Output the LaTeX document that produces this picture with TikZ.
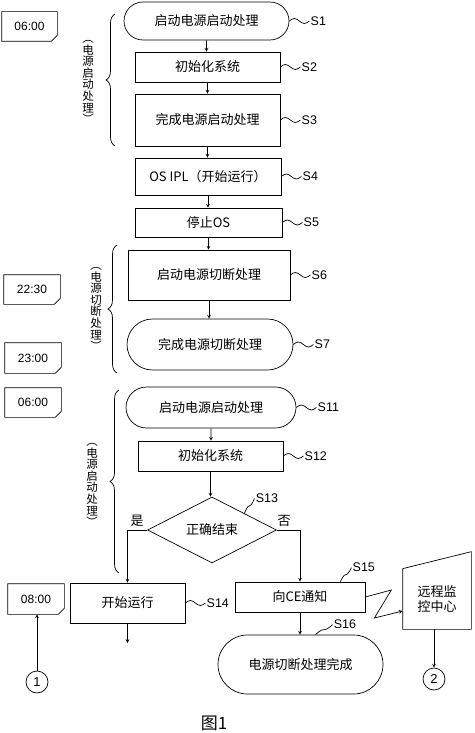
\documentclass[tikz,border=0pt]{standalone}
\usepackage{fontspec}
\setmainfont{Liberation Sans}
\newfontfamily\cjk{Noto Sans CJK SC}
\usetikzlibrary{shapes.geometric,shapes.misc,decorations.pathreplacing}

\newcommand{\steptag}[2]{\draw (#1) sin ++(5,-2.5) cos ++(5,2.5) sin ++(5,2.5) cos ++(5,-2.5) node[tag]{#2};}
\newcommand{\uptag}[3]{\draw (#1) sin ++(#2) cos ++(#2) node[tag]{#3};}

\begin{document}
\begin{tikzpicture}[
    x=1pt, y=-1pt, line width=0.7pt,
    proc/.style={draw, rectangle, inner sep=2pt, font=\cjk\fontsize{13}{15}\selectfont},
    term/.style={draw, rounded rectangle, inner sep=2pt, font=\cjk\fontsize{13}{15}\selectfont},
    memo/.style={inner sep=0pt, font=\fontsize{12}{14}\selectfont},
    tag/.style={anchor=west, inner sep=1pt, font=\fontsize{12.5}{14}\selectfont},
    side/.style={align=center, inner sep=0pt, font=\cjk\fontsize{11.5}{11.6}\selectfont},
    lbl/.style={inner sep=1pt, font=\cjk\fontsize{13}{15}\selectfont},
    conn/.style={draw, circle, inner sep=0pt, minimum size=22pt, font=\fontsize{13}{15}\selectfont},
    arrow/.style={->, >=stealth},
    curly/.style={decorate, decoration={brace, amplitude=9pt}}
]
    \useasboundingbox (0,0) rectangle (474,733);

    \node[term, minimum width=169pt, minimum height=38pt] (s1) at (206.5,21) {启动电源启动处理};
    \node[proc, minimum width=145pt, minimum height=30pt] (s2) at (207.5,67) {初始化系统};
    \node[proc, minimum width=145pt, minimum height=52pt] (s3) at (207.5,120) {完成电源启动处理};
    \node[proc, minimum width=146pt, minimum height=37pt] (s4) at (208,176.5) {OS IPL（开始运行）};
    \node[proc, minimum width=147pt, minimum height=29pt] (s5) at (208.5,222.5) {停止OS};
    \node[proc, minimum width=162pt, minimum height=50pt] (s6) at (209,275) {启动电源切断处理};
    \node[term, minimum width=170pt, minimum height=51pt] (s7) at (210,344.5) {完成电源切断处理};
    \node[term, minimum width=174pt, minimum height=41pt] (s11) at (211,407.5) {启动电源启动处理};
    \node[proc, minimum width=145pt, minimum height=30pt] (s12) at (210.5,456) {初始化系统};
    \node[draw, diamond, inner sep=0pt, minimum width=129pt, minimum height=66pt,
          font=\cjk\fontsize{13}{15}\selectfont] (s13) at (212,530) {正确结束};
    \node[proc, minimum width=115pt, minimum height=40pt] (s14) at (127.5,603) {开始运行};
    \node[proc, minimum width=130pt, minimum height=30pt] (s15) at (300,597) {向CE通知};
    \node[term, minimum width=169pt, minimum height=59pt] (s16) at (300.5,664.5) {电源切断处理完成};
    \node[lbl, align=center, minimum width=68pt, minimum height=60pt] (rmc) at (437,599) {远程监\\控中心};
    \draw (rmc.north west) -- ([yshift=17pt]rmc.north east) -- (rmc.south east) -- (rmc.south west) -- cycle;

    \node[conn] (c1) at (37,682) {1};
    \node[conn] (c2) at (434,679) {2};
    \coordinate (s14out) at (127.5,643);

    \node[memo, minimum width=55pt, minimum height=29pt] (t1) at (29.5,26.5) {06:00};
    \node[memo, minimum width=56pt, minimum height=29pt] (t2) at (32,289.5) {22:30};
    \node[memo, minimum width=56pt, minimum height=30pt] (t3) at (33,358) {23:00};
    \node[memo, minimum width=56pt, minimum height=29pt] (t4) at (33,402.5) {06:00};
    \node[memo, minimum width=56pt, minimum height=30pt] (t5) at (36,599) {08:00};
    \foreach \t in {t1,t2,t3,t4,t5}
        \draw (\t.north west) -- (\t.north east) -- ([yshift=6pt]\t.south east)
              -- ([xshift=-4pt,yshift=2pt]\t.south east) -- ([xshift=-6pt]\t.south east)
              -- (\t.south west) -- cycle;

    \draw[curly] (115,146) -- (115,14);
    \draw[curly] (117,373) -- (117,245);
    \draw[curly] (119,573) -- (119,390);
    \node[side] (side1) at (88,82) {︵\\电\\源\\启\\动\\处\\理\\︶};
    \node[side] (side2) at (96,309) {︵\\电\\源\\切\\断\\处\\理\\︶};
    \node[side] (side3) at (92,485) {︵\\电\\源\\启\\动\\处\\理\\︶};

    \draw[arrow] (s1) -- (s1 |- s2.north);
    \draw[arrow] (s2) -- (s2 |- s3.north);
    \draw[arrow] (s3) -- (s3 |- s4.north);
    \draw[arrow] (s4) -- (s4 |- s5.north);
    \draw[arrow] (s5) -- (s5 |- s6.north);
    \draw[arrow] (s6) -- (s6 |- s7.north);
    \draw[arrow] (s11) -- (s11 |- s12.north);
    \draw[arrow] (s12) -- (s12 |- s13.north);
    \draw[arrow] (s13.west) -| (s14.north);
    \draw[arrow] (s13.east) -| (s15.north);
    \draw[arrow] (s14) -- (s14out);
    \draw[arrow] (s15) -- (s15 |- s16.north);
    \draw[arrow] (s15.east) -- ++(26,-7) -- ++(-17,28) -- ([yshift=-12pt]rmc.west);
    \draw[arrow] (c2 |- rmc.south) -- (c2);
    \draw[arrow] (c1) -- (c1 |- t5.south);

    \node[lbl] (yes) at (137,521) {是};
    \node[lbl] (no) at (284,521) {否};

    \steptag{s1.east}{S1}
    \steptag{s2.east}{S2}
    \steptag{s3.east}{S3}
    \steptag{s4.east}{S4}
    \steptag{s5.east}{S5}
    \steptag{s6.east}{S6}
    \steptag{s7.east}{S7}
    \steptag{s11.east}{S11}
    \steptag{s12.east}{S12}
    \steptag{s14.east}{S14}
    \uptag{s13.north east}{5,-7.5}{S13}
    \uptag{[xshift=-25pt]s15.north east}{5.5,-7}{S15}
    \uptag{[xshift=15pt]s16.north}{8.5,-5}{S16}

    \node[font=\cjk\fontsize{17}{19}\selectfont] (fig) at (214,723) {图1};
\end{tikzpicture}
\end{document}
